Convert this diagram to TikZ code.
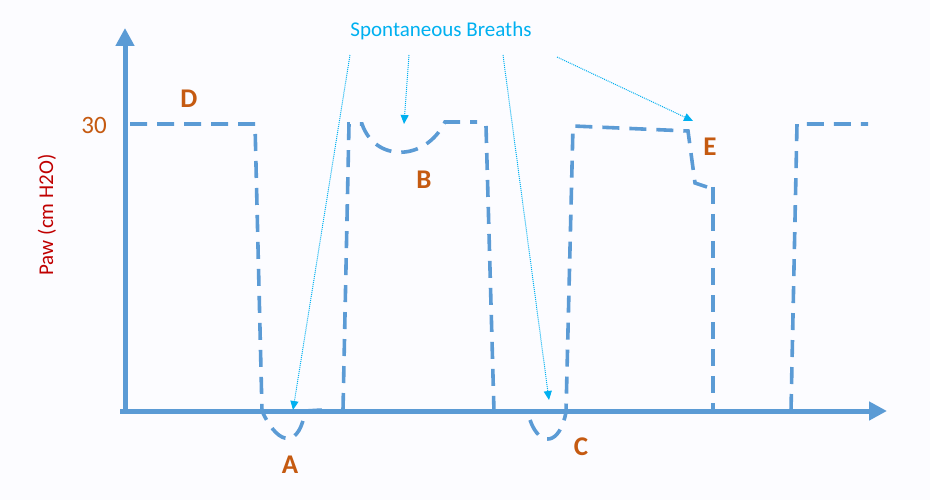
\documentclass[tikz,border=0pt]{standalone}
\usepackage{fontspec}
\setmainfont{Carlito}
\usetikzlibrary{arrows.meta}
\definecolor{wave}{HTML}{5B9BD5}
\definecolor{lbl}{HTML}{C55A11}
\definecolor{anncol}{HTML}{00B0F0}
\definecolor{ylab}{HTML}{C00000}
\begin{document}
\begin{tikzpicture}[x=1pt,y=-1pt,
 axis/.style={wave,line width=5pt,-{Triangle[length=18pt,width=18pt]}},
 wav/.style={wave,line width=3.6pt,dash pattern=on 17pt off 10pt},
 annline/.style={anncol,densely dotted,line width=1pt,-{Triangle[length=9pt,width=8pt]}},
 big/.style={lbl,font=\fontsize{27}{28}\selectfont\bfseries},
 every node/.style={inner sep=0pt}]
\fill[white!96!blue!30!white] (0,0) rectangle (930,500);
\useasboundingbox (0,0) rectangle (930,500);
\draw[axis] (125,413) -- (125,28);
\draw[axis] (120,411) -- (887,411);
\draw[wav] (130,124) -- (255,124) -- (262,411) .. controls (280,450) and (300,445) .. (305,411) -- (322,410);
\draw[wav] (343,410) -- (349,124) -- (362,124) .. controls (375,162) and (425,162) .. (445,122) -- (477,122);
\draw[wav] (486,126) -- (494,412);
\draw[wav] (530,420) .. controls (540,448) and (560,445) .. (566,412) -- (573,126) -- (688,131) -- (695,183) -- (707,187);
\draw[wav] (713,187) -- (713,411);
\draw[wav] (791,411) -- (797,124) -- (868,124);
\node (title) [text=anncol,font=\fontsize{21}{22}\selectfont] at (441,31) {Spontaneous Breaths};
\coordinate (t1) at (350,55);\coordinate (t2) at (409,55);
\coordinate (t3) at (503,55);\coordinate (t4) at (557,57);
\coordinate (a) at (293,410);\coordinate (b) at (404,124);
\coordinate (c) at (549,400);\coordinate (e) at (693,121);
\draw[annline] (t1) -- (a); \draw[annline] (t2) -- (b);
\draw[annline] (t3) -- (c); \draw[annline] (t4) -- (e);
\node (D) [big] at (189,99) {D};
\node (B) [big] at (424,180) {B};
\node (A) [big] at (290,465) {A};
\node (C) [big] at (581,447) {C};
\node (E) [big] at (710,147) {E};
\node (n30) [text=lbl,font=\fontsize{25}{26}\selectfont] at (94,125) {30};
\node (paw) [text=ylab,rotate=90,font=\fontsize{21}{22}\selectfont] at (47,215) {Paw (cm H2O)};
\end{tikzpicture}
\end{document}
